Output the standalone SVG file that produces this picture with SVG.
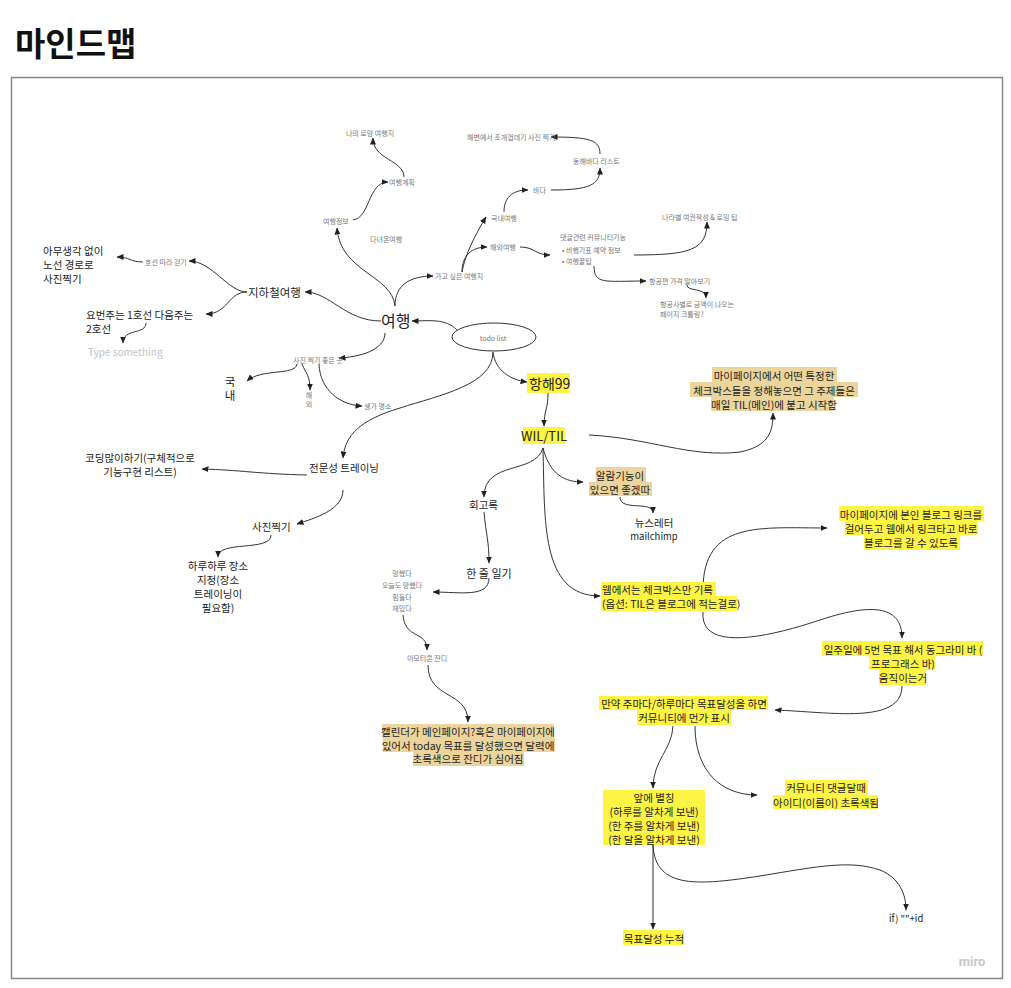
<svg xmlns="http://www.w3.org/2000/svg" width="1011" height="988" viewBox="0 0 1011 988">
<style>
text{font-family:"Noto Sans CJK KR","Noto Sans",sans-serif;fill:#222;dominant-baseline:central}
.s{font-size:7px;fill:#777}
.m{font-size:10.5px}
.c{text-anchor:middle}
.y{fill:#fef445}
.n{fill:#ebd59d}
#edges path{fill:none;stroke:#333;stroke-width:1;marker-end:url(#a)}
</style>
<defs>
<marker id="a" markerWidth="7" markerHeight="6" refX="6.5" refY="3" orient="auto" markerUnits="userSpaceOnUse"><path d="M0,0 L7,3 L0,6 z" fill="#222"/></marker>
</defs>
<rect width="1011" height="988" fill="#fff"/>
<text x="15" y="42" style="font-size:33px;font-weight:bold;fill:#111">마인드맵</text>
<rect x="11.5" y="77.5" width="991" height="901" fill="#fff" stroke="#888" stroke-width="1.5"/>

<g id="edges">
<path d="M395,306 C392,275 340,272 337,228"/>
<path d="M353,220 C370,218 368,182 388,182"/>
<path d="M404,177 C404,160 373,160 373,138"/>
<path d="M395,306 C395,285 410,276 433,276"/>
<path d="M462,272 C465,255 475,235 486,217"/>
<path d="M462,272 C462,255 472,247 487,247"/>
<path d="M504,212 C504,195 515,190 528,190"/>
<path d="M551,190 C590,190 600,185 600,168"/>
<path d="M600,154 C600,140 590,137 551,137"/>
<path d="M520,247 C535,247 535,255 550,255"/>
<path d="M634,255 C690,255 707,250 707,222"/>
<path d="M594,266 C594,285 605,281 646,281"/>
<path d="M687,285 C687,292 706,287 706,298"/>
<path d="M457,330 C445,318 430,321 412,321"/>
<path d="M381,321 C345,321 330,292 305,292"/>
<path d="M247,292 C228,292 212,261 189,261"/>
<path d="M143,262 C130,262 130,257 117,257"/>
<path d="M247,292 C228,292 228,314 206,314"/>
<path d="M146,323 C146,335 123,328 123,343"/>
<path d="M385,333 C385,350 360,357 339,358"/>
<path d="M297,364 C295,376 262,368 247,381"/>
<path d="M302,364 C306,374 310,375 310,390"/>
<path d="M319,364 C320,390 340,405 362,406"/>
<path d="M493,352 C493,385 440,395 400,408 C360,420 345,435 343,458"/>
<path d="M493,352 C495,370 510,380 527,382"/>
<path d="M548,393 C548,410 544,410 544,426"/>
<path d="M589,435 C650,438 690,458 740,452 C770,446 773,430 773,413"/>
<path d="M543,448 C535,475 484,460 484,497"/>
<path d="M543,448 C550,475 565,482 583,482"/>
<path d="M543,448 C545,520 540,596 600,596"/>
<path d="M620,497 C620,512 653,500 653,513"/>
<path d="M307,475 C260,474 240,470 202,469"/>
<path d="M343,490 C343,510 315,518 297,524"/>
<path d="M271,535 C271,552 218,540 218,557"/>
<path d="M484,512 C486,535 489,540 489,563"/>
<path d="M489,578 C489,598 460,592 433,592"/>
<path d="M403,615 C405,640 427,630 427,650"/>
<path d="M428,665 C428,700 468,690 468,722"/>
<path d="M703,590 C703,520 760,528 827,528"/>
<path d="M703,612 C700,650 760,640 820,620 C880,600 902,610 902,638"/>
<path d="M902,686 C902,725 830,712 775,710"/>
<path d="M673,726 C672,750 653,760 653,788"/>
<path d="M695,726 C695,770 720,795 757,795"/>
<path d="M653,845 L653,929"/>
<path d="M653,845 C655,890 700,885 760,876 C820,866 850,860 880,870 C900,878 906,895 906,910"/>
</g>

<g id="n-romang"><text class="s c" x="370" y="133">나의 로망 여행지</text></g>
<g id="n-plan"><text class="s" x="389" y="182">여행계획</text></g>
<g id="n-info"><text class="s" x="323" y="221">여행정보</text></g>
<g id="n-visited"><text class="s" x="370" y="239">다녀온여행</text></g>
<g id="n-want"><text class="s" x="435" y="276" font-size="7.5">가고 싶은 여행지</text></g>
<g id="n-domestic"><text class="s" x="491" y="218">국내여행</text></g>
<g id="n-abroad"><text class="s" x="490" y="247">해외여행</text></g>
<g id="n-sea"><text class="s" x="533" y="190">바다</text></g>
<g id="n-eastsea"><text class="s" x="573" y="161">동해바다 리스트</text></g>
<g id="n-beach"><text class="s" x="467" y="137" font-size="6.5">해변에서 조개껍데기 사진 찍기</text></g>
<g id="n-community"><text class="s" x="560" y="237">댓글관련 커뮤니티기능</text>
<text class="s" x="562" y="250">•  비행기표 예약 정보</text>
<text class="s" x="562" y="261">•  여행꿀팁</text></g>
<g id="n-passport"><text class="s" x="662" y="217">나라별 여권작성 &amp; 로밍 팁</text></g>
<g id="n-flight"><text class="s" x="649" y="281">항공편 가격 알아보기</text></g>
<g id="n-crawl"><text class="s" x="660" y="304">항공사별로 금액이 나오는</text>
<text class="s" x="660" y="314">페이지 크롤링?</text></g>

<g id="n-travel"><text x="381" y="320" font-size="16">여행</text></g>
<g id="n-todo"><ellipse cx="494" cy="337" rx="42" ry="14" fill="#fff" stroke="#333" stroke-width="1"/>
<text class="s c" x="493" y="338">todo list</text></g>
<g id="n-subway"><text x="248" y="292" font-size="11.5">지하철여행</text></g>
<g id="n-line"><text class="s" x="145" y="262">호선 따라 걷기</text></g>
<g id="n-nothink"><text class="m" x="43" y="250">아무생각 없이</text>
<text class="m" x="43" y="264">노선 경로로</text>
<text class="m" x="43" y="278">사진찍기</text></g>
<g id="n-weekly"><text class="m" x="86" y="314">요번주는 1호선 다음주는</text>
<text class="m" x="86" y="328">2호선</text></g>
<g id="n-type"><text x="88" y="351" style="font-size:10px;fill:#c4c4c4">Type something</text></g>
<g id="n-photo-spot"><text class="s" x="293" y="360" font-size="6">사진 찍기 좋은 곳</text></g>
<g id="n-guknae"><text class="c" x="230" y="381" font-size="11.5">국</text><text class="c" x="230" y="395" font-size="11.5">내</text></g>
<g id="n-haeoe"><text class="s c" x="309" y="395" font-size="6">해</text><text class="s c" x="309" y="404" font-size="6">외</text></g>
<g id="n-birth"><text class="s" x="364" y="406" font-size="6.5">생가 명소</text></g>

<g id="n-hanghae"><rect class="y" x="527" y="373" width="43" height="20"/><text x="529" y="383" font-size="14">항해99</text></g>
<g id="n-wiltil"><rect class="y" x="523" y="427" width="42" height="17"/><text class="c" x="544" y="435" font-size="13">WIL/TIL</text></g>
<g id="n-mypage-check">
<rect class="n" x="712" y="367" width="125" height="15"/><rect class="n" x="690" y="382" width="168" height="15"/><rect class="n" x="711" y="397" width="123" height="14"/>
<text class="m c" x="774" y="375">마이페이지에서 어떤 특정한</text>
<text class="m c" x="774" y="390">체크박스들을 정해놓으면 그 주제들은</text>
<text class="m c" x="774" y="404">매일 TIL(메인)에 붙고 시작함</text></g>
<g id="n-expert"><text x="309" y="467" font-size="10.5">전문성 트레이닝</text></g>
<g id="n-coding"><text class="m c" x="140" y="457">코딩많이하기(구체적으로</text>
<text class="m c" x="140" y="471">기능구현 리스트)</text></g>
<g id="n-photo"><text class="m" x="252" y="526">사진찍기</text></g>
<g id="n-daily"><text class="m c" x="218" y="565">하루하루 장소</text>
<text class="m c" x="218" y="579">지정(장소</text>
<text class="m c" x="218" y="593">트레이닝이</text>
<text class="m c" x="218" y="607">필요함)</text></g>
<g id="n-retro"><text class="m" x="469" y="504">회고록</text></g>
<g id="n-oneline"><text class="c" x="489" y="573" font-size="11">한 줄 일기</text></g>
<g id="n-feel"><text class="s c" x="402" y="573" font-size="7.5">망했다</text>
<text class="s c" x="402" y="585" font-size="7.5">오늘도 망했다</text>
<text class="s c" x="402" y="597" font-size="7.5">힘들다</text>
<text class="s c" x="402" y="608" font-size="7.5">재밌다</text></g>
<g id="n-emoji"><text class="s c" x="427" y="658" font-size="8">이모티콘 잔디</text></g>
<g id="n-calendar">
<rect class="n" x="382" y="724" width="172" height="14"/><rect class="n" x="383" y="738" width="172" height="14"/><rect class="n" x="413" y="752" width="111" height="14"/>
<text class="m c" x="468" y="731">캘린더가 메인페이지?혹은 마이페이지에</text>
<text class="m c" x="468" y="745">있어서 today 목표를 달성했으면 달력에</text>
<text class="m c" x="468" y="758">초록색으로 잔디가 심어짐</text></g>
<g id="n-alarm">
<rect class="n" x="596" y="467" width="50" height="15"/><rect class="n" x="589" y="482" width="63" height="14"/>
<text class="m c" x="620" y="475">알람기능이</text>
<text class="m c" x="620" y="489">있으면 좋겠따</text></g>
<g id="n-news"><text class="m c" x="654" y="522">뉴스레터</text>
<text class="c" x="654" y="536" font-size="9.5">mailchimp</text></g>
<g id="n-blog">
<rect class="y" x="839" y="506" width="145" height="15"/><rect class="y" x="845" y="521" width="133" height="14"/><rect class="y" x="864" y="535" width="96" height="15"/>
<text class="m c" x="911" y="514">마이페이지에 본인 블로그 링크를</text>
<text class="m c" x="911" y="528">걸어두고 웹에서 링크타고 바로</text>
<text class="m c" x="911" y="542">블로그를 갈 수 있도록</text></g>
<g id="n-web">
<rect class="y" x="601" y="582" width="115" height="14"/><rect class="y" x="601" y="596" width="136" height="15"/>
<text class="m" x="602" y="589">웹에서는 체크박스만 기록</text>
<text class="m" x="602" y="603">(옵션: TIL은 블로그에 적는걸로)</text></g>
<g id="n-week5">
<rect class="y" x="822" y="641" width="161" height="15"/><rect class="y" x="869" y="656" width="66" height="14"/><rect class="y" x="879" y="670" width="47" height="15"/>
<text class="m c" x="903" y="649">일주일에 5번 목표 해서 동그라미 바 (</text>
<text class="m c" x="903" y="663">프로그래스 바)</text>
<text class="m c" x="903" y="677">움직이는거</text></g>
<g id="n-goal">
<rect class="y" x="599" y="696" width="169" height="14"/><rect class="y" x="637" y="710" width="94" height="15"/>
<text class="m c" x="684" y="703">만약 주마다/하루마다 목표달성을 하면</text>
<text class="m c" x="684" y="717">커뮤니티에 먼가 표시</text></g>
<g id="n-green">
<rect class="y" x="785" y="780" width="83" height="15"/><rect class="y" x="773" y="795" width="105" height="14"/>
<text class="m c" x="826" y="787">커뮤니티 댓글달때</text>
<text class="m c" x="826" y="802">아이디(이름이) 초록색됨</text></g>
<g id="n-nick">
<rect class="y" x="603" y="790" width="102" height="55"/>
<text class="m c" x="654" y="797">앞에 별칭</text>
<text class="m c" x="654" y="811">(하루를 알차게 보낸)</text>
<text class="m c" x="654" y="825">(한 주를 알차게 보낸)</text>
<text class="m c" x="654" y="839">(한 달을 알차게 보낸)</text></g>
<g id="n-accum"><rect class="y" x="623" y="930" width="61" height="15"/><text class="m c" x="654" y="938">목표달성 누적</text></g>
<g id="n-if"><text x="889" y="918" font-size="9.5">if) ""+id</text></g>
<text x="972" y="961" style="font-family:Roboto,sans-serif;font-size:13px;font-weight:bold;fill:#c8c8c8;text-anchor:middle">miro</text>
</svg>
